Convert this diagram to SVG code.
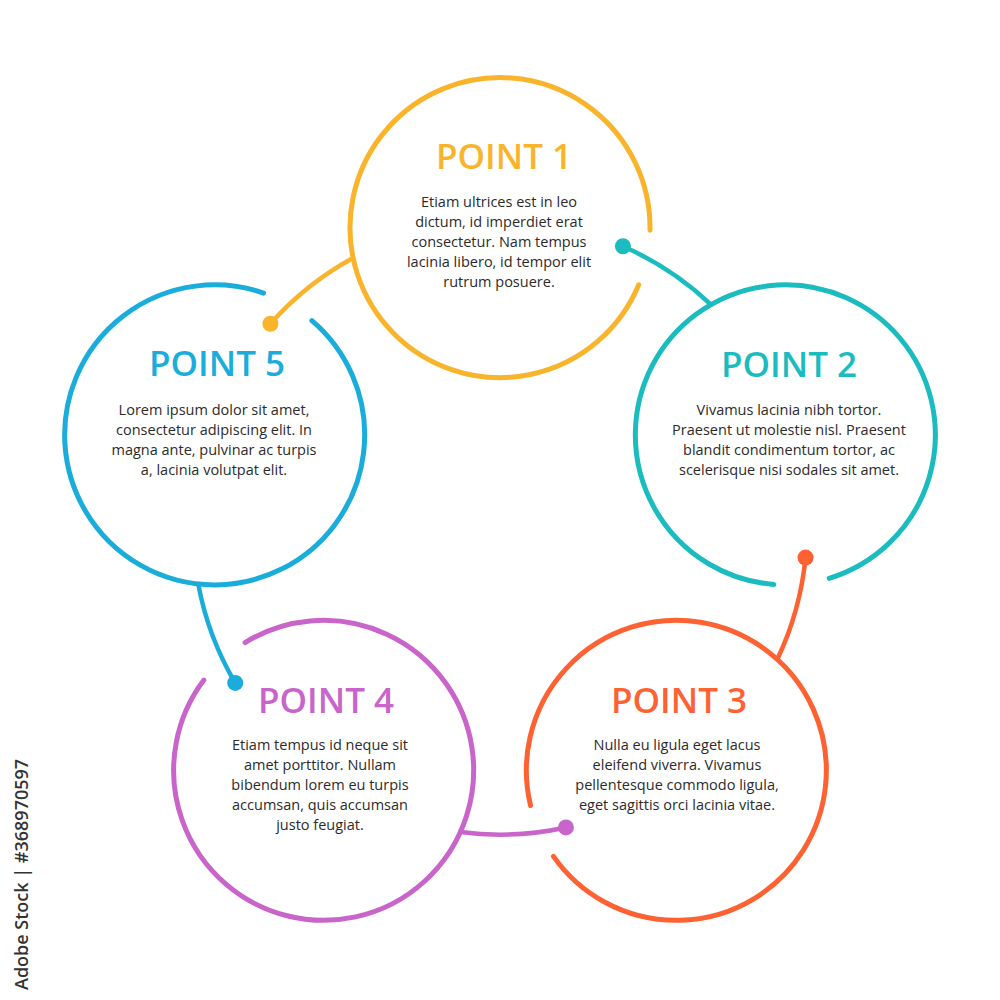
<svg xmlns="http://www.w3.org/2000/svg" width="1000" height="1000" viewBox="0 0 1000 1000">
<style>
.ring{fill:none;stroke-width:5;stroke-linecap:round}
.conn{fill:none;stroke-width:4.5;stroke-linecap:round}
.title{font-family:"Open Sans","Liberation Sans",sans-serif;font-size:35px;font-weight:600;text-anchor:middle}
.body{font-family:"Open Sans","Liberation Sans",sans-serif;font-size:14.5px;fill:#2b2b2b;text-anchor:middle}
.c1{stroke:#F9B42B;fill:#F9B42B}
.c2{stroke:#1BBCBF;fill:#1BBCBF}
.c3{stroke:#FE6233;fill:#FE6233}
.c4{stroke:#C864CA;fill:#C864CA}
.c5{stroke:#1AADDB;fill:#1AADDB}
</style>
<rect width="1000" height="1000" fill="#ffffff"/>
<g id="connectors">
<path class="conn c2" style="fill:none" d="M622.91 246.28 A307 307 0 0 1 710.94 304.54"/>
<circle class="c2" cx="622.91" cy="246.28" r="8" style="stroke:none"/>
<path class="conn c3" style="fill:none" d="M805.54 557.56 A307 307 0 0 1 777.33 659.28"/>
<circle class="c3" cx="805.54" cy="557.56" r="8" style="stroke:none"/>
<path class="conn c4" style="fill:none" d="M565.92 827.44 A307 307 0 0 1 460.46 832.04"/>
<circle class="c4" cx="565.92" cy="827.44" r="8" style="stroke:none"/>
<path class="conn c5" style="fill:none" d="M235.21 682.95 A307 307 0 0 1 198.24 584.07"/>
<circle class="c5" cx="235.21" cy="682.95" r="8" style="stroke:none"/>
<path class="conn c1" style="fill:none" d="M270.42 323.77 A307 307 0 0 1 353.04 258.06"/>
<circle class="c1" cx="270.42" cy="323.77" r="8" style="stroke:none"/>
</g>
<g id="node1">
<path class="ring c1" style="fill:none" d="M638.68 284.76 A150 150 0 1 1 649.98 230.22"/>
<text class="title c1" style="stroke:none" x="504" y="169">POINT 1</text>
<text class="body" x="499"><tspan x="499" y="207">Etiam ultrices est in leo</tspan><tspan x="499" y="227">dictum, id imperdiet erat</tspan><tspan x="499" y="247">consectetur. Nam tempus</tspan><tspan x="499" y="267">lacinia libero, id tempor elit</tspan><tspan x="499" y="287">rutrum posuere.</tspan></text>
</g>
<g id="node2">
<path class="ring c2" style="fill:none" d="M773.81 584.45 A150 150 0 1 1 829.18 578.34"/>
<text class="title c2" style="stroke:none" x="789" y="377">POINT 2</text>
<text class="body" x="789"><tspan x="789" y="415">Vivamus lacinia nibh tortor.</tspan><tspan x="789" y="435">Praesent ut molestie nisl. Praesent</tspan><tspan x="789" y="455">blandit condimentum tortor, ac</tspan><tspan x="789" y="475">scelerisque nisi sodales sit amet.</tspan></text>
</g>
<g id="node3">
<path class="ring c3" style="fill:none" d="M530.55 805.58 A150 150 0 1 1 553.47 856.35"/>
<text class="title c3" style="stroke:none" x="679" y="713">POINT 3</text>
<text class="body" x="677"><tspan x="677" y="750">Nulla eu ligula eget lacus</tspan><tspan x="677" y="770">eleifend viverra. Vivamus</tspan><tspan x="677" y="790">pellentesque commodo ligula,</tspan><tspan x="677" y="810">eget sagittis orci lacinia vitae.</tspan></text>
</g>
<g id="node4">
<path class="ring c4" style="fill:none" d="M245.06 642.55 A150 150 0 1 1 203.86 680.04"/>
<text class="title c4" style="stroke:none" x="326" y="713">POINT 4</text>
<text class="body" x="320"><tspan x="320" y="750">Etiam tempus id neque sit</tspan><tspan x="320" y="770">amet porttitor. Nullam</tspan><tspan x="320" y="790">bibendum lorem eu turpis</tspan><tspan x="320" y="810">accumsan, quis accumsan</tspan><tspan x="320" y="830">justo feugiat.</tspan></text>
</g>
<g id="node5">
<path class="ring c5" style="fill:none" d="M311.90 320.66 A150 150 0 1 1 263.52 293.06"/>
<text class="title c5" style="stroke:none" x="217" y="376">POINT 5</text>
<text class="body" x="214"><tspan x="214" y="415">Lorem ipsum dolor sit amet,</tspan><tspan x="214" y="435">consectetur adipiscing elit. In</tspan><tspan x="214" y="455">magna ante, pulvinar ac turpis</tspan><tspan x="214" y="475">a, lacinia volutpat elit.</tspan></text>
</g>
<text x="0" y="0" transform="translate(28,990) rotate(-90)" font-family="'Open Sans','Liberation Sans',sans-serif" font-size="18" font-weight="600" fill="#333333">Adobe Stock | #368970597</text>
</svg>
